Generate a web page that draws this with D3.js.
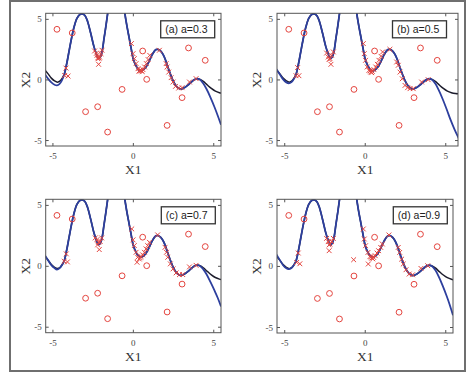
<!DOCTYPE html>
<html>
<head>
<meta charset="utf-8">
<script src="https://cdn.jsdelivr.net/npm/d3@7"></script>
<style>
  html, body { margin: 0; padding: 0; background: #fff; }
  svg { display: block; }
  .tick-lbl { font-family: 'Liberation Serif', 'DejaVu Serif', serif; font-size: 9px; fill: #444; }
  .ax-title { font-family: 'Liberation Serif', 'DejaVu Serif', serif; font-size: 13.5px; fill: #333; }
  .legend { font-family: 'Liberation Sans', Arial, sans-serif; font-size: 10.5px; fill: #222; }
</style>
</head>
<body>
<svg id="chart" width="474" height="387"></svg>
<script>
// Four panels of the same boundary: true curve (black), estimate (blue),
// red circles = test points, red crosses = samples near the boundary.
var xTicks = [-5, 0, 5];
var yTicks = [-5, 0, 5];
var panelLabels = ['(a) a=0.3', '(b) a=0.5', '(c) a=0.7', '(d) a=0.9'];

// shared part of both curves, x from -4.3 to 4.0
var midCurve = [
    [-4.3, 0.45], [-4.15, 1.3], [-4.0, 2.35], [-3.85, 3.4], [-3.7, 4.3], [-3.5, 5.1],
    [-3.3, 5.42], [-3.15, 5.45], [-3.0, 5.3], [-2.85, 4.85], [-2.65, 3.85], [-2.45, 2.75],
    [-2.3, 2.15], [-2.17, 1.78], [-2.05, 1.9], [-1.95, 2.3], [-1.82, 3.45], [-1.7, 4.5],
    [-1.58, 5.65], [-1.45, 6.8], [-1.2, 8.5], [-0.95, 9.0], [-0.7, 7.5], [-0.55, 5.7],
    [-0.42, 4.6], [-0.3, 3.75], [-0.15, 2.7], [0.0, 1.7], [0.15, 1.2], [0.3, 0.88],
    [0.45, 0.76], [0.6, 0.82], [0.8, 1.1], [1.0, 1.6], [1.2, 2.15], [1.4, 2.5],
    [1.55, 2.52], [1.7, 2.38], [1.85, 2.1], [2.0, 1.65], [2.15, 1.05], [2.3, 0.5],
    [2.45, 0.0], [2.6, -0.38], [2.75, -0.62], [2.9, -0.74], [3.05, -0.72], [3.2, -0.62],
    [3.4, -0.42], [3.6, -0.18], [3.8, 0.03], [3.97, 0.1]
];
var blackLeft = [[-5.55, 0.9], [-5.3, 0.5], [-5.1, 0.15], [-4.9, -0.08], [-4.72, -0.18], [-4.55, -0.08], [-4.42, 0.15]];
var blackRight = [[4.15, 0.05], [4.35, -0.12], [4.6, -0.42], [4.85, -0.7], [5.1, -0.92], [5.35, -1.05], [5.6, -1.12], [5.8, -1.14]];

var blueLeftA = [[-5.55, 0.55], [-5.3, 0.1], [-5.1, -0.2], [-4.9, -0.4], [-4.75, -0.45], [-4.6, -0.35], [-4.45, -0.05]];
var blueLeftB = [[-5.55, 0.95], [-5.3, 0.45], [-5.1, 0.05], [-4.9, -0.2], [-4.75, -0.28], [-4.58, -0.18], [-4.43, 0.1]];
var blueLeftC = [[-5.55, 1.0], [-5.3, 0.5], [-5.1, 0.1], [-4.9, -0.15], [-4.75, -0.27], [-4.58, -0.15], [-4.43, 0.12]];
var blueLeftD = [[-5.55, 1.05], [-5.3, 0.52], [-5.1, 0.1], [-4.9, -0.15], [-4.77, -0.22], [-4.6, -0.14], [-4.43, 0.12]];

var blueRightA = [[4.15, 0.02], [4.35, -0.3], [4.55, -0.75], [4.8, -1.45], [5.05, -2.25], [5.25, -2.95], [5.45, -3.7]];
var blueRightB = [[4.15, 0.02], [4.35, -0.3], [4.55, -0.8], [4.8, -1.55], [5.05, -2.4], [5.3, -3.3], [5.55, -4.1], [5.8, -4.8]];
var blueRightC = [[4.15, 0.03], [4.35, -0.25], [4.55, -0.65], [4.8, -1.3], [5.05, -2.0], [5.25, -2.6], [5.45, -3.3]];
var blueRightD = [[4.15, 0.02], [4.35, -0.3], [4.55, -0.8], [4.8, -1.55], [5.05, -2.4], [5.25, -3.15], [5.45, -4.0]];

// test points, same in every panel
var circles = [
    [-4.75, 4.18], [-3.8, 3.88], [0.58, 2.39], [3.43, 2.64], [4.47, 1.62], [0.83, 0.05],
    [-0.7, -0.78], [3.03, -1.46], [-2.97, -2.62], [-2.22, -2.21], [2.1, -3.75], [-1.6, -4.3]
];

var crossesA = [
    [-4.19, 0.98], [-4.27, 0.37], [-4.06, 0.32],
    [-2.41, 2.39], [-2.26, 2.03], [-2.2, 1.84], [-2.1, 1.89], [-2.01, 2.17], [-1.95, 2.45],
    [-2.16, 1.29], [-2.2, 1.75], [-2.12, 1.8], [-2.3, 2.2],
    [-0.12, 3.0], [-0.02, 2.17], [0.06, 1.76], [0.17, 1.35], [0.29, 0.93], [0.39, 0.79],
    [0.5, 0.74], [0.6, 0.85], [0.7, 1.07], [0.81, 1.35], [0.92, 1.68], [1.02, 2.03],
    [0.35, 0.7], [0.45, 0.82], [0.55, 0.7], [1.62, 2.45],
    [2.04, 1.35], [2.1, 1.07], [2.2, 0.65], [2.35, 0.19], [2.47, -0.17], [2.62, -0.53],
    [2.82, -0.67], [3.03, -0.64], [3.49, -0.17], [3.9, 0.11]
];
var crossesB = [
    [-4.2, 1.02], [-4.3, 0.35], [-4.12, 0.35],
    [-2.4, 2.22], [-2.3, 1.89], [-2.19, 1.76], [-2.09, 2.03], [-1.98, 2.31], [-2.25, 1.68], [-2.13, 1.29],
    [-0.12, 3.0], [-0.06, 2.17], [0.02, 1.62], [0.12, 1.07], [0.23, 0.79], [0.34, 0.65],
    [0.44, 0.71], [0.54, 0.85], [0.65, 1.07], [0.75, 1.29], [0.85, 1.62], [0.98, 1.95],
    [1.08, 2.31], [0.3, 0.75], [0.4, 0.6], [1.53, 2.53],
    [1.95, 1.48], [2.05, 1.21], [2.16, 0.65], [2.3, 0.1], [2.47, -0.45], [2.63, -0.64],
    [2.78, -0.72], [2.98, -0.72], [3.5, -0.17], [3.91, 0.02]
];
var crossesC = [
    [-4.17, 1.02], [-4.3, 0.41], [-4.1, 0.36],
    [-2.37, 2.33], [-2.26, 2.19], [-2.16, 1.97], [-2.06, 2.03], [-1.97, 2.33], [-2.22, 1.76], [-2.12, 1.37],
    [-0.1, 3.07], [-0.02, 2.17], [0.06, 1.7], [0.17, 1.15], [0.27, 0.74], [0.37, 0.6],
    [0.48, 0.8], [0.58, 0.94], [0.69, 1.15], [0.79, 1.43], [0.89, 1.7], [1.0, 1.97],
    [0.23, 0.33], [0.42, 0.7], [1.51, 2.58],
    [1.97, 1.56], [2.06, 1.15], [2.14, 0.74], [2.3, 0.2], [2.47, -0.21], [2.66, -0.54],
    [2.87, -0.68], [3.07, -0.68], [3.49, -0.05], [3.9, 0.08]
];
var crossesD = [
    [-4.16, 1.1], [-4.26, 0.33], [-4.06, 0.22],
    [-2.4, 2.3], [-2.3, 2.03], [-2.19, 1.84], [-2.09, 2.03], [-1.98, 2.3], [-2.24, 1.76], [-2.24, 1.29],
    [-0.72, 0.55], [0.19, 0.2],
    [-0.12, 3.07], [-0.06, 2.25], [0.02, 1.7], [0.17, 1.15], [0.29, 0.8], [0.42, 0.69],
    [0.52, 0.74], [0.62, 0.88], [0.73, 1.1], [0.83, 1.29], [0.96, 1.56], [1.06, 1.84],
    [0.36, 0.75], [0.47, 0.62], [1.47, 2.58],
    [2.05, 1.56], [2.14, 1.15], [2.26, 0.6], [2.36, 0.2], [2.53, -0.27], [2.73, -0.62],
    [2.94, -0.68], [3.46, -0.16], [3.88, 0.06]
];

var blackCurve = blackLeft.concat(midCurve, blackRight);
var blueCurves = [
    blueLeftA.concat(midCurve, blueRightA),
    blueLeftB.concat(midCurve, blueRightB),
    blueLeftC.concat(midCurve, blueRightC),
    blueLeftD.concat(midCurve, blueRightD)
];
var crossSets = [crossesA, crossesB, crossesC, crossesD];

// panel placement on the page
var panels = [
    { x0: 45.7, x1: 221, y0: 13.3, y1: 146, xd: [-5.45, 5.45], yd: [-5.45, 5.5] },
    { x0: 277, x1: 458, y0: 13.3, y1: 146, xd: [-5.48, 5.76], yd: [-5.45, 5.5] },
    { x0: 45.7, x1: 221, y0: 199.3, y1: 332.7, xd: [-5.45, 5.45], yd: [-5.45, 5.5] },
    { x0: 277, x1: 453, y0: 199.3, y1: 333, xd: [-5.48, 5.45], yd: [-5.45, 5.5] }
];

var RED = '#e4453f';
var svg = d3.select('#chart');

// outer frame
svg.append('rect')
    .attr('x', 10).attr('y', 1).attr('width', 455).attr('height', 370)
    .attr('fill', 'none').attr('stroke', '#6f6f6f').attr('stroke-width', 2);

panels.forEach(function (p, i) {
    var x = d3.scaleLinear().domain(p.xd).range([p.x0, p.x1]);
    var y = d3.scaleLinear().domain(p.yd).range([p.y1, p.y0]);
    var g = svg.append('g');

    var clipId = 'clip' + i;
    svg.append('clipPath').attr('id', clipId)
        .append('rect')
        .attr('x', p.x0).attr('y', p.y0)
        .attr('width', p.x1 - p.x0).attr('height', p.y1 - p.y0);

    var line = d3.line()
        .x(function (d) { return x(d[0]); })
        .y(function (d) { return y(d[1]); })
        .curve(d3.curveCatmullRom.alpha(0.5));

    var plot = g.append('g').attr('clip-path', 'url(#' + clipId + ')');
    plot.append('path').datum(blackCurve)
        .attr('d', line).attr('fill', 'none')
        .attr('stroke', '#1c1c2c').attr('stroke-width', 1.5);
    plot.append('path').datum(blueCurves[i])
        .attr('d', line).attr('fill', 'none')
        .attr('stroke', '#2d3f9e').attr('stroke-width', 1.8);

    // crosses
    var s = 2.4;
    plot.selectAll('path.cross').data(crossSets[i]).enter()
        .append('path').attr('class', 'cross')
        .attr('d', function (d) {
            var cx = x(d[0]), cy = y(d[1]);
            return 'M' + (cx - s) + ',' + (cy - s) + 'L' + (cx + s) + ',' + (cy + s) +
                   'M' + (cx - s) + ',' + (cy + s) + 'L' + (cx + s) + ',' + (cy - s);
        })
        .attr('stroke', RED).attr('stroke-width', 1).attr('fill', 'none');

    // circles
    plot.selectAll('circle').data(circles).enter()
        .append('circle')
        .attr('cx', function (d) { return x(d[0]); })
        .attr('cy', function (d) { return y(d[1]); })
        .attr('r', 2.9)
        .attr('fill', 'none').attr('stroke', RED).attr('stroke-width', 1);

    // axes box
    g.append('rect')
        .attr('x', p.x0).attr('y', p.y0)
        .attr('width', p.x1 - p.x0).attr('height', p.y1 - p.y0)
        .attr('fill', 'none').attr('stroke', '#555').attr('stroke-width', 1);

    // inward ticks on all four sides
    var tl = 3;
    xTicks.forEach(function (t) {
        g.append('line').attr('x1', x(t)).attr('x2', x(t)).attr('y1', p.y1).attr('y2', p.y1 - tl).attr('stroke', '#555');
        g.append('line').attr('x1', x(t)).attr('x2', x(t)).attr('y1', p.y0).attr('y2', p.y0 + tl).attr('stroke', '#555');
        g.append('text').attr('class', 'tick-lbl')
            .attr('x', x(t)).attr('y', p.y1 + 13)
            .attr('text-anchor', 'middle').text(t < 0 ? '-' + Math.abs(t) : t);
    });
    yTicks.forEach(function (t) {
        g.append('line').attr('x1', p.x0).attr('x2', p.x0 + tl).attr('y1', y(t)).attr('y2', y(t)).attr('stroke', '#555');
        g.append('line').attr('x1', p.x1).attr('x2', p.x1 - tl).attr('y1', y(t)).attr('y2', y(t)).attr('stroke', '#555');
        g.append('text').attr('class', 'tick-lbl')
            .attr('x', p.x0 - 4).attr('y', y(t) + 3)
            .attr('text-anchor', 'end').text(t < 0 ? '-' + Math.abs(t) : t);
    });

    // axis titles
    g.append('text').attr('class', 'ax-title')
        .attr('x', x(0)).attr('y', p.y1 + 28)
        .attr('text-anchor', 'middle').text('X1');
    g.append('text').attr('class', 'ax-title')
        .attr('transform', 'translate(' + (p.x0 - 16) + ',' + y(0) + ') rotate(-90)')
        .attr('text-anchor', 'middle').text('X2');

    // legend box, top right
    var lw = 54, lh = 17;
    var lx = [160.7, 392.5, 161.3, 393.3][i];
    g.append('rect')
        .attr('x', lx).attr('y', p.y0 + 7.5)
        .attr('width', lw).attr('height', lh)
        .attr('fill', '#fff').attr('stroke', '#333').attr('stroke-width', 1.3);
    g.append('text').attr('class', 'legend')
        .attr('x', lx + 4.5).attr('y', p.y0 + 19.8)
        .text(panelLabels[i]);
});
</script>
</body>
</html>
